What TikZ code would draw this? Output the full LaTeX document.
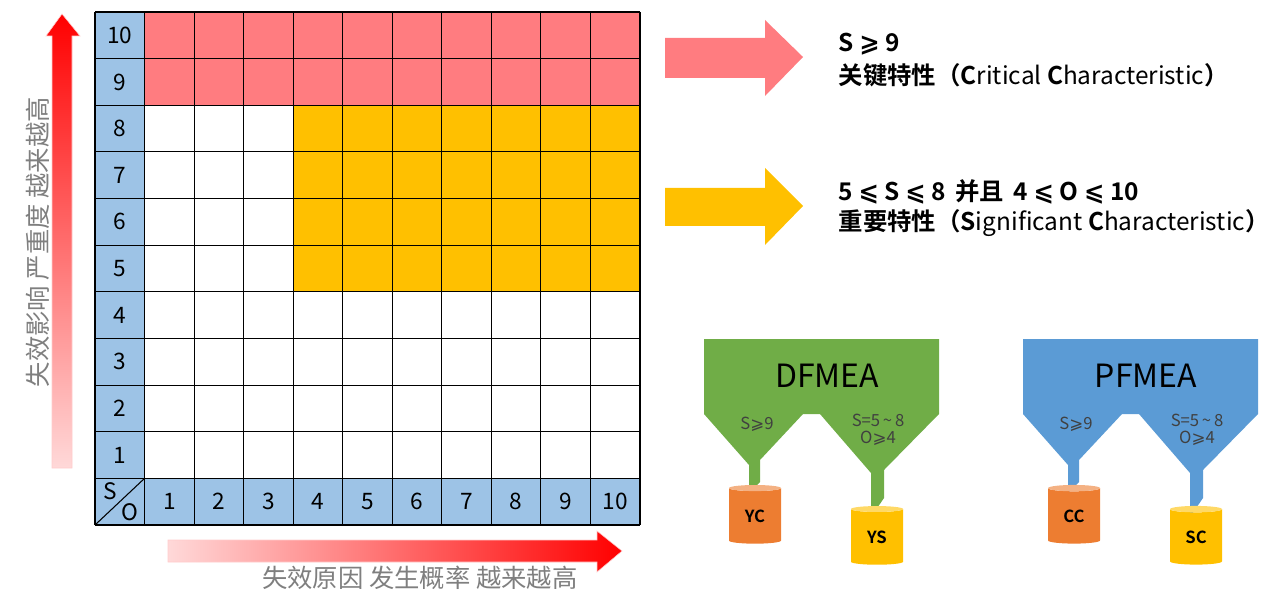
\documentclass[tikz,border=0pt]{standalone}
\usepackage{fontspec}
\setmainfont{Noto Sans CJK SC}[BoldFont={Noto Sans CJK SC Bold}]
\newfontfamily\sym{DejaVu Sans}
\newfontfamily\symb{DejaVu Sans Bold}
\usetikzlibrary{shapes.geometric}
\definecolor{hdr}{HTML}{9DC3E6}
\definecolor{redc}{HTML}{FF7C80}
\definecolor{orc}{HTML}{FFC000}
\definecolor{grn}{HTML}{70AD47}
\definecolor{blu}{HTML}{5B9BD5}
\definecolor{cyo}{HTML}{ED7D31}
\definecolor{cyot}{HTML}{F4B183}
\definecolor{cyy}{HTML}{FFC000}
\definecolor{cyyt}{HTML}{FFD966}
\definecolor{gtxt}{HTML}{7F7F7F}
\tikzset{
 num/.style={font=\fontsize{17}{17}\selectfont},
 rtxt/.style={font=\bfseries\fontsize{18.3}{19}\selectfont, anchor=west},
 axis/.style={font=\fontsize{19}{19}\selectfont, text=gtxt},
 small/.style={font=\fontsize{12.5}{13}\selectfont, text=black!75},
 big/.style={font=\fontsize{24}{24}\selectfont},
 cyl/.style={cylinder, shape border rotate=90, aspect=0.3, minimum width=39pt, minimum height=44pt, draw=none, cylinder uses custom fill, font=\bfseries\fontsize{12.5}{12}\selectfont, inner sep=0pt},
}
\begin{document}
\begin{tikzpicture}[x=0.75pt,y=-0.75pt]
\useasboundingbox (0,0) rectangle (1280,598);
\pgfmathsetmacro{\w}{(640-95)/11}
\pgfmathsetmacro{\h}{(525-12)/11}
% fills
\fill[hdr] (95,12) rectangle ({95+\w},525);
\fill[hdr] (95,{525-\h}) rectangle (640,525);
\fill[redc] ({95+\w},12) rectangle (640,{12+2*\h});
\fill[orc] ({95+4*\w},{12+2*\h}) rectangle (640,{12+6*\h});
\foreach \i in {0,...,11}{
 \draw[thick] ({95+\i*\w},12) -- ({95+\i*\w},525);
 \draw[thick] (95,{12+\i*\h}) -- (640,{12+\i*\h});
}
\foreach \r in {1,...,10}{
 \node[num] (r\r) at ({95+\w/2},{12+(10.5-\r)*\h}) {\r};
 \node[num] (c\r) at ({95+(\r+0.5)*\w},{525-\h/2}) {\r};
}
\draw[thick] (95,525) -- ({95+\w},{525-\h});
\node[num] (S) at ({95+\w*0.3},{525-\h*0.72}) {S};
\node[num] (O) at ({95+\w*0.7},{525-\h*0.28}) {O};
% axis arrows
\shade[top color=red, bottom color=red!15, draw=red!20]
 (52,468) -- (52,36) -- (46,36) -- (62,14) -- (80,36) -- (72,36) -- (72,468) -- cycle;
\node[axis, rotate=90] (ylab) at (38,242) {失效影响 严重度 越来越高};
\shade[left color=red!15, right color=red, draw=red!20]
 (168,540) -- (597,540) -- (597,531) -- (622,551) -- (597,572) -- (597,562) -- (168,562) -- cycle;
\node[axis] (xlab) at (420,578) {失效原因 发生概率 越来越高};
% right arrows
\fill[redc] (665,38) -- (765,38) -- (765,20) -- (803,57) -- (765,96) -- (765,78) -- (665,78) -- cycle;
\fill[orc] (665,188) -- (765,188) -- (765,168) -- (803,206) -- (765,245) -- (765,226) -- (665,226) -- cycle;
\node[rtxt] (t1) at (834,44) {S {\symb ⩾} 9};
\node[rtxt] (t2) at (834,75) {关键特性（\textbf{C}{\mdseries ritical }\textbf{C}{\mdseries haracteristic}）};
\node[rtxt] (t3) at (834,192) {5 {\symb ⩽} S {\symb ⩽} 8\, 并且\, 4 {\symb ⩽} O {\symb ⩽} 10};
\node[rtxt] (t4) at (834,223) {重要特性（\textbf{S}{\mdseries ignificant }\textbf{C}{\mdseries haracteristic}）};
% funnels
\foreach \dx/\col/\name in {0/grn/DFMEA, 319/blu/PFMEA}{
 \begin{scope}[xshift=\dx*0.75pt]
 \fill[\col] (704,339) -- (939,339) -- (939,414) -- (884,470) -- (884,498) -- (871,517) -- (871,473) -- (820,414) -- (803,414) -- (760,460) -- (760,482) -- (749,493) -- (749,465) -- (704,414) -- cycle;
 \node[big] (\name) at (827,376) {\name};
 \node[small] (\name a) at (757,424) {S{\sym ⩾}9};
 \node[small, align=center] (\name b) at (878,430) {S=5\,\textasciitilde\,8\\O{\sym ⩾}4};
 \end{scope}
}
\node[cyl, cylinder body fill=cyo, cylinder end fill=cyot] (YC) at (755,516) {YC};
\node[cyl, cylinder body fill=cyy, cylinder end fill=cyyt] (YS) at (877,537) {YS};
\node[cyl, cylinder body fill=cyo, cylinder end fill=cyot] (CC) at (1074,516) {CC};
\node[cyl, cylinder body fill=cyy, cylinder end fill=cyyt] (SC) at (1196,537) {SC};
\end{tikzpicture}
\end{document}
